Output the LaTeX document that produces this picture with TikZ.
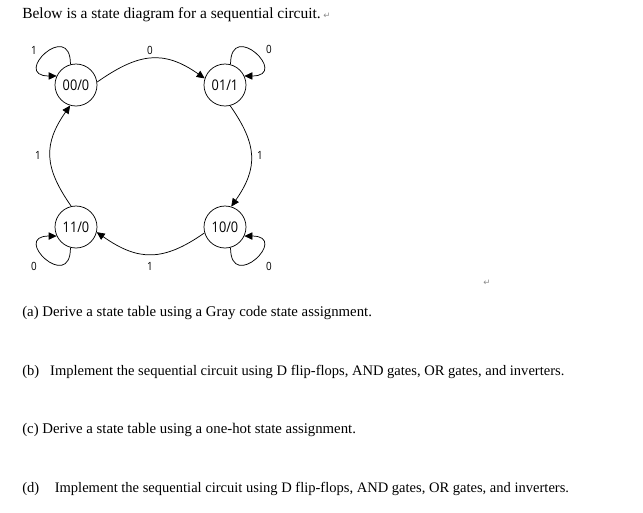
\documentclass[tikz,border=0pt]{standalone}
\usepackage{fontspec}
\setmainfont{Liberation Serif}
\newfontfamily\statefont[FakeStretch=0.87]{Open Sans}
\newfontfamily\markfont{DejaVu Sans}
\usetikzlibrary{arrows.meta}
\def\retmark{{\markfont\color{black!45}\fontsize{6.5}{6.5}\selectfont ↵}}

\begin{document}
\begin{tikzpicture}[x=0.75pt, y=-0.75pt,
		state/.style={draw, circle, minimum size=31.5pt, inner sep=0pt, line width=0.55pt, font=\statefont\fontsize{11}{12}\selectfont},
		arc/.style={line width=0.55pt, -{Triangle[length=6pt, width=5.5pt]}},
		inp/.style={font=\statefont\fontsize{8.5}{9}\selectfont, inner sep=0pt},
		line/.style={anchor=base west, inner sep=0pt, font=\fontsize{10.9}{13}\selectfont}]
		%%%%% START %%%%%
		
		\useasboundingbox (0, 0) rectangle (643, 512);
		
		\node[line, font=\fontsize{11.6}{13}\selectfont] (title) at (22, 18) {Below is a state diagram for a sequential circuit.\,\retmark};
		
		\node[state] (s00) at (76, 85) {00/0};
		\node[state] (s01) at (225, 85) {01/1};
		\node[state] (s11) at (76, 227) {11/0};
		\node[state] (s10) at (225, 227) {10/0};
		
		\draw[arc] (s00.8) to[out=35, in=145, looseness=1.2] (s01.162);
		\draw[arc] (s01.-76) to[out=-55, in=55, looseness=1.2] (s10.73);
		\draw[arc] (s10.196) to[out=-145, in=-35, looseness=1.2] (s11.-14);
		\draw[arc] (s11.103) to[out=125, in=-125, looseness=1.2] (s00.-106);
		
		\draw[arc] (s00.105) to[out=90, in=180, looseness=6.5] (s00.155);
		\draw[arc] (s01.75) to[out=90, in=0, looseness=6.5] (s01.25);
		\draw[arc] (s11.-105) to[out=-90, in=180, looseness=6.5] (s11.-155);
		\draw[arc] (s10.-75) to[out=-90, in=0, looseness=6.5] (s10.-25);
		
		\node[inp] (l00) at (34, 50) {1};
		\node[inp] (l0001) at (150, 50) {0};
		\node[inp] (l01) at (269, 49) {0};
		\node[inp] (l1100) at (38, 155) {1};
		\node[inp] (l0110) at (260, 155) {1};
		\node[inp] (l11) at (34, 266) {0};
		\node[inp] (l1011) at (150, 266) {1};
		\node[inp] (l10) at (269, 266) {0};
		
		\node[inner sep=0pt] (ret) at (487, 283) {\retmark};
		
		\node[line, font=\fontsize{11.1}{13}\selectfont] (qa) at (22, 316) {(a) Derive a state table using a Gray code state assignment.};
		\node[line] (qb) at (22, 375) {(b)\hspace{5.5pt} Implement the sequential circuit using D flip-flops, AND gates, OR gates, and inverters.};
		\node[line, font=\fontsize{11.1}{13}\selectfont] (qc) at (22, 433) {(c) Derive a state table using a one-hot state assignment.};
		\node[line] (qd) at (22, 492) {(d)\hspace{9pt} Implement the sequential circuit using D flip-flops, AND gates, OR gates, and inverters.};
		
		%%%%% END %%%%%
\end{tikzpicture}
\end{document}
